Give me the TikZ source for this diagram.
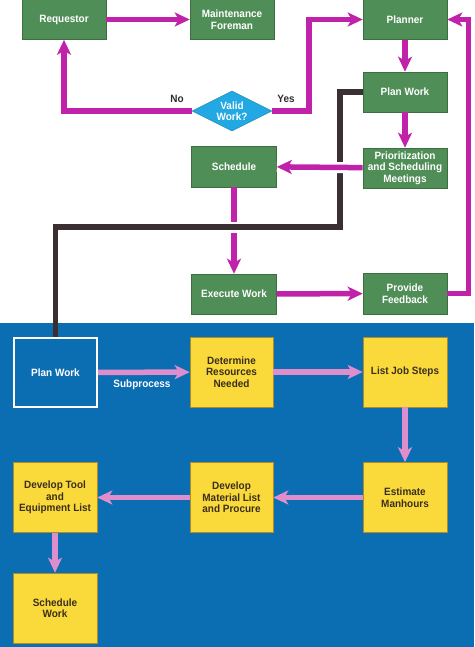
\documentclass[tikz,border=0pt]{standalone}
\usepackage{fontspec}
\setmainfont{Liberation Sans}[FakeStretch=0.94]
\usetikzlibrary{shapes.geometric,arrows.meta}
\definecolor{gfill}{RGB}{80,142,88}
\definecolor{gdraw}{RGB}{60,110,66}
\definecolor{yfill}{RGB}{250,218,58}
\definecolor{ydraw}{RGB}{170,140,40}
\definecolor{ytext}{RGB}{58,46,30}
\definecolor{mag}{RGB}{192,34,170}
\definecolor{pnk}{RGB}{222,142,205}
\definecolor{bluebg}{RGB}{12,110,178}
\definecolor{cyanfill}{RGB}{34,168,226}
\definecolor{darkln}{RGB}{58,48,50}
\definecolor{lbltext}{RGB}{50,44,44}
\begin{document}
\begin{tikzpicture}[x=1pt,y=-1pt,
  every node/.style={font=\bfseries\fontsize{10.6}{11.5}\selectfont, align=center, inner sep=0pt},
  gbox/.style={rectangle, fill=gfill, draw=gdraw, line width=0.6pt, text=white, minimum width=84pt, minimum height=40pt},
  ybox/.style={rectangle, fill=yfill, draw=ydraw, line width=0.6pt, text=ytext, minimum width=84pt, minimum height=70pt},
  bbox/.style={rectangle, fill=bluebg, draw=white, line width=2pt, text=white, minimum width=83pt, minimum height=69pt},
  dia/.style={diamond, aspect=2, fill=cyanfill, draw=cyanfill!80!black, line width=0.4pt, text=white, minimum width=80pt, minimum height=40pt},
  lbl/.style={text=lbltext},
  wlbl/.style={text=white},
  tip/.style={-{Stealth[length=15pt,width=14pt,inset=4pt]}},
  marrow/.style={draw=mag, line width=5.5pt, tip},
  parrow/.style={draw=pnk, line width=5.5pt, tip},
  darkline/.style={draw=darkln, line width=5.5pt},
  gapline/.style={draw=white, line width=11pt},
]
\useasboundingbox (0,0) rectangle (474,647);
\fill[white] (0,0) rectangle (474,323);
\fill[bluebg] (0,323) rectangle (474,647);

% top part nodes
\node[gbox] (req) at (64,19.5) {Requestor};
\node[gbox] (mf) at (232,19.5) {Maintenance\\Foreman};
\node[gbox] (planner) at (405,19.5) {Planner};
\node[gbox] (pw) at (405,92) {Plan Work};
\node[dia] (valid) at (232,111) {Valid\\Work?};
\node[gbox] (prio) at (405,168) {Prioritization\\and Scheduling\\Meetings};
\node[gbox, minimum width=85pt, minimum height=41pt] (sched) at (234,166.5) {Schedule};
\node[gbox, minimum width=85pt] (exec) at (234,294) {Execute Work};
\node[gbox, minimum height=41pt] (fb) at (405,293.5) {Provide\\Feedback};
\node[lbl] (nolbl) at (177,99) {No};
\node[lbl] (yeslbl) at (286,99) {Yes};

% bottom part nodes
\node[bbox] (bpw) at (55.5,372.5) {Plan Work};
\node[ybox, minimum width=83pt] (det) at (231.5,372) {Determine\\Resources\\Needed};
\node[ybox] (ljs) at (405,372) {List Job Steps};
\node[ybox] (est) at (405,497.5) {Estimate\\Manhours};
\node[ybox, minimum width=83pt] (dml) at (231.5,497.5) {Develop\\Material List\\and Procure};
\node[ybox] (dtl) at (55,497.5) {Develop Tool\\and\\Equipment List};
\node[ybox] (sw) at (55,608) {Schedule\\Work};
\node[wlbl] (sub) at (142,385) {Subprocess};

% helper coordinates
\coordinate (yk) at (309,19.5);
\coordinate (fk) at (468.5,293.5);
\coordinate (dk1) at (340,92);
\coordinate (dk2) at (340,227);

% magenta connectors
\draw[marrow] (req) -- (mf);
\draw[marrow] (valid.west) -| (req.south);
\draw[marrow] (valid.east) -| (yk) -- (planner.west);
\draw[marrow] (planner) -- (pw);
\draw[marrow] (pw) -- (prio);
\draw[marrow] (sched) -- (exec);
\draw[marrow] (exec) -- (fb);
\draw[marrow] (fb.east) -- (fk) |- (planner.east);

% dark subprocess link, passing over Schedule->Execute
\draw[gapline] (dk2) -- (dk2 -| bpw.north);
\draw[darkline] (pw.west) -- (dk1) -- (dk2) -| (bpw.north);

% Prioritization -> Schedule passes over the dark line
\draw[gapline] (prio.west) -- (sched.east);
\draw[marrow] (prio) -- (sched);

% pink connectors
\draw[parrow] (bpw) -- (det);
\draw[parrow] (det) -- (ljs);
\draw[parrow] (ljs) -- (est);
\draw[parrow] (est) -- (dml);
\draw[parrow] (dml) -- (dtl);
\draw[parrow] (dtl) -- (sw);
\end{tikzpicture}
\end{document}
